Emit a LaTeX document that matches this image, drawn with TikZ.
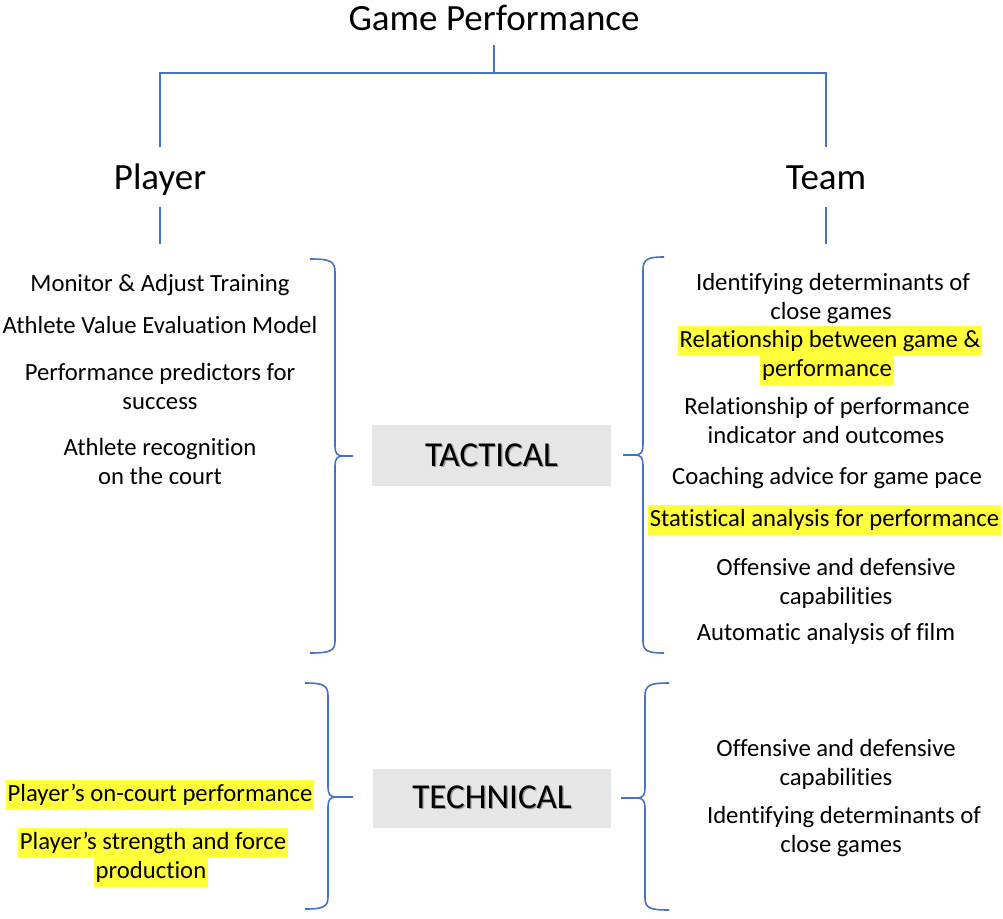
\documentclass[tikz,border=0pt]{standalone}
\usepackage{fontspec}
\setmainfont[Ligatures=NoCommon]{Carlito}
\definecolor{lineblue}{RGB}{68,114,196}
\definecolor{hly}{RGB}{255,255,60}
\definecolor{boxgray}{RGB}{231,230,230}
\newcommand\shadowtxt[1]{\leavevmode\rlap{\kern1.3pt\raisebox{-1.3pt}{\textcolor{black!40}{#1}}}#1}
\begin{document}
\begin{tikzpicture}[x=1pt,y=-1pt,
  conn/.style={draw=lineblue, line width=1.6pt},
  head/.style={font=\fontsize{37}{44}\selectfont, inner sep=0, anchor=base},
  item/.style={font=\fontsize{24.7}{29}\selectfont, inner sep=0, text height=18pt, text depth=6pt},
  hl/.style={item, fill=hly, inner xsep=2pt, inner ysep=3pt},
  cat/.style={fill=boxgray, font=\fontsize{35}{42}\selectfont, inner sep=0}
]
\useasboundingbox (0,0) rectangle (1003,918);

% headings
\node[head] (gp) at (494,30) {Game Performance};
\node[head] (player) at (160,189) {Player};
\node[head] (team) at (826,189) {Team};

\coordinate (gpb) at (494,45);
\coordinate (hm) at (494,73);
\coordinate (hl) at (160,73);
\coordinate (hr) at (826,73);
\coordinate (pl) at (160,147);
\coordinate (tr) at (826,147);
\coordinate (pl2) at (160,207);
\coordinate (pl3) at (160,244);
\coordinate (tr2) at (826,207);
\coordinate (tr3) at (826,244);
\draw[conn] (gpb) -- (hm);
\draw[conn] (pl) -- (hl) -- (hr) -- (tr);
\draw[conn] (pl2) -- (pl3);
\draw[conn] (tr2) -- (tr3);

% category boxes
\node[cat, minimum width=239pt, minimum height=61pt] (tac) at (491.5,455.5) {\shadowtxt{TACTICAL}};
\node[cat, minimum width=238pt, minimum height=59pt] (tec) at (492,798) {\shadowtxt{TECHNICAL}};

% braces
\coordinate (b1) at (353,456);
\draw[conn] (310,259) .. controls (330,259) and (335,261) .. (335,272) -- (335,446)
  .. controls (335,453) and (337,456) .. (343,456) -- (b1);
\draw[conn] (343,456) .. controls (337,456) and (335,459) .. (335,466) -- (335,641)
  .. controls (335,651) and (330,653) .. (310,653);

\coordinate (b2) at (623,455);
\draw[conn] (664,257) .. controls (648,257) and (643,259) .. (643,270) -- (643,445)
  .. controls (643,452) and (641,455) .. (635,455) -- (b2);
\draw[conn] (635,455) .. controls (641,455) and (643,458) .. (643,465) -- (643,641)
  .. controls (643,651) and (648,653) .. (664,653);

\coordinate (b3) at (353,797);
\draw[conn] (305,683) .. controls (323,683) and (328,685) .. (328,696) -- (328,787)
  .. controls (328,794) and (330,797) .. (336,797) -- (b3);
\draw[conn] (336,797) .. controls (330,797) and (328,800) .. (328,807) -- (328,897)
  .. controls (328,907) and (323,909) .. (305,909);

\coordinate (b4) at (621,798);
\draw[conn] (669,683) .. controls (650,683) and (645,685) .. (645,696) -- (645,788)
  .. controls (645,795) and (643,798) .. (637,798) -- (b4);
\draw[conn] (637,798) .. controls (643,798) and (645,801) .. (645,808) -- (645,898)
  .. controls (645,908) and (650,910) .. (669,910);

% left tactical items
\node[item] (l1) at (160,285) {Monitor \& Adjust Training};
\node[item] (l2) at (160,327) {Athlete Value Evaluation Model};
\node[item] (l3a) at (160,374) {Performance predictors for};
\node[item] (l3b) at (160,403) {success};
\node[item] (l4a) at (160,449) {Athlete recognition};
\node[item] (l4b) at (160,478) {on the court};

% right tactical items
\node[item] (r1a) at (833,284) {Identifying determinants of};
\node[item] (r1b) at (831,313) {close games};
\node[hl] (r2a) at (830,341) {Relationship between game \&\ };
\node[hl] (r2b) at (827,370) {performance};
\node[item] (r3a) at (827,408) {Relationship of performance};
\node[item] (r3b) at (826,437) {indicator and outcomes};
\node[item] (r4) at (827,478) {Coaching advice for game pace};
\node[hl] (r5) at (824.5,520) {Statistical analysis for performance};
\node[item] (r6a) at (836,569) {Offensive and defensive};
\node[item] (r6b) at (836,598) {capabilities};
\node[item] (r7) at (826,634) {Automatic analysis of film};

% left technical items
\node[hl] (t1) at (160,795) {Player’s on-court performance};
\node[hl] (t2a) at (153,843) {Player’s strength and force\ };
\node[hl] (t2b) at (151,872) {production};

% right technical items
\node[item] (u1a) at (836,750) {Offensive and defensive};
\node[item] (u1b) at (836,779) {capabilities};
\node[item] (u2a) at (844,817) {Identifying determinants of};
\node[item] (u2b) at (841,846) {close games};
\end{tikzpicture}
\end{document}
